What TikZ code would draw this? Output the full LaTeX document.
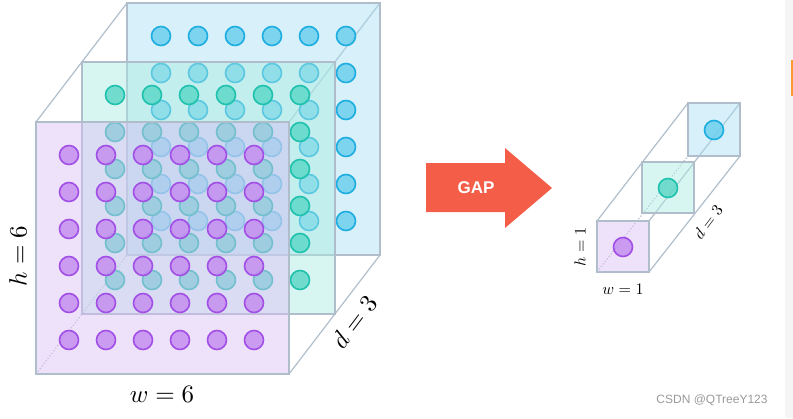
\documentclass[tikz,border=0pt]{standalone}
\usepackage{fontspec}
\newfontfamily\sans{Liberation Sans}
\newcommand{\bigmlab}[1]{\scalebox{2.5}{$#1$}}
\newcommand{\smmlab}[1]{\scalebox{1.6}{$#1$}}
\begin{document}
\definecolor{pf}{HTML}{D9BDF5}\definecolor{pc}{HTML}{C48FF0}\definecolor{ps}{HTML}{A24FE6}
\definecolor{tf}{HTML}{A9EBE1}\definecolor{tc}{HTML}{5FD8C8}\definecolor{ts}{HTML}{20C2AE}
\definecolor{bf}{HTML}{A6DEF2}\definecolor{bc}{HTML}{6CCFEE}\definecolor{bs}{HTML}{1EADE0}
\definecolor{edge}{HTML}{B0BECC}\definecolor{gap}{HTML}{F45D48}
\begin{tikzpicture}[x=1pt,y=-1pt,
  plane/.style={draw=edge,line width=1.3pt,fill opacity=0.45},
  ln/.style={draw=edge,line width=1.2pt},
  dot/.style={circle,minimum size=19pt,inner sep=0pt,line width=1.6pt,fill opacity=0.85}]
\useasboundingbox (0,0) rectangle (793,418);
\fill[gray!8] (785,0) rectangle (793,418);
\fill[orange!80] (791,60) rectangle (793,96);
\draw[ln] (36,122)--(127,3) (289,122)--(380,3) (289,374)--(380,255);
\draw[edge,dotted,line width=1.2pt] (36,374)--(127,255);
\fill[plane,fill=bf] (127,3) rectangle (380,255);
\foreach \i in {0,...,5}\foreach \j in {0,...,5}
  \node[dot,fill=bc,draw=bs] (b\i\j) at (161+37*\i,36+37*\j) {};
\fill[plane,fill=tf] (82,62) rectangle (335,314);
\foreach \i in {0,...,5}\foreach \j in {0,...,5}
  \node[dot,fill=tc,draw=ts] (t\i\j) at (115+37*\i,95+37*\j) {};
\fill[plane,fill=pf] (36,122) rectangle (289,374);
\foreach \i in {0,...,5}\foreach \j in {0,...,5}
  \node[dot,fill=pc,draw=ps] (p\i\j) at (69+37*\i,155+37*\j) {};
\draw[ln] (36,374)--(36,122)--(289,122)--(289,374)--cycle;
\node[rotate=90] (h) at (18,256) {\bigmlab{h=6}};
\node (w) at (162,394) {\bigmlab{w=6}};
\node[rotate=53] (d) at (354,322) {\bigmlab{d=3}};
\fill[gap] (426,163)--(505,163)--(505,148)--(552,188)--(505,228)--(505,212)--(426,212)--cycle;
\node[font=\sans\bfseries\fontsize{17}{20}\selectfont,text=white] (g) at (476,188) {GAP};
\draw[ln] (597,221)--(688,103) (649,221)--(740,103) (649,272)--(740,156);
\draw[edge,dotted,line width=1.2pt] (597,272)--(688,156);
\fill[plane,fill=bf] (688,103) rectangle (740,156);
\node[dot,fill=bc,draw=bs] (rb) at (714,130) {};
\fill[plane,fill=tf] (642,162) rectangle (694,213);
\node[dot,fill=tc,draw=ts] (rt) at (668,188) {};
\fill[plane,fill=pf] (597,221) rectangle (649,272);
\node[dot,fill=pc,draw=ps] (rp) at (623,247) {};
\draw[ln] (597,221) rectangle (649,272);
\node[rotate=90] (h1) at (580,247) {\smmlab{h=1}};
\node (w1) at (623,289) {\smmlab{w=1}};
\node[rotate=53] (d1) at (708,222) {\smmlab{d=3}};
\node[font=\sans\fontsize{12}{14}\selectfont,text=gray!80] (wm) at (712,400) {CSDN @QTreeY123};
\end{tikzpicture}
\end{document}
